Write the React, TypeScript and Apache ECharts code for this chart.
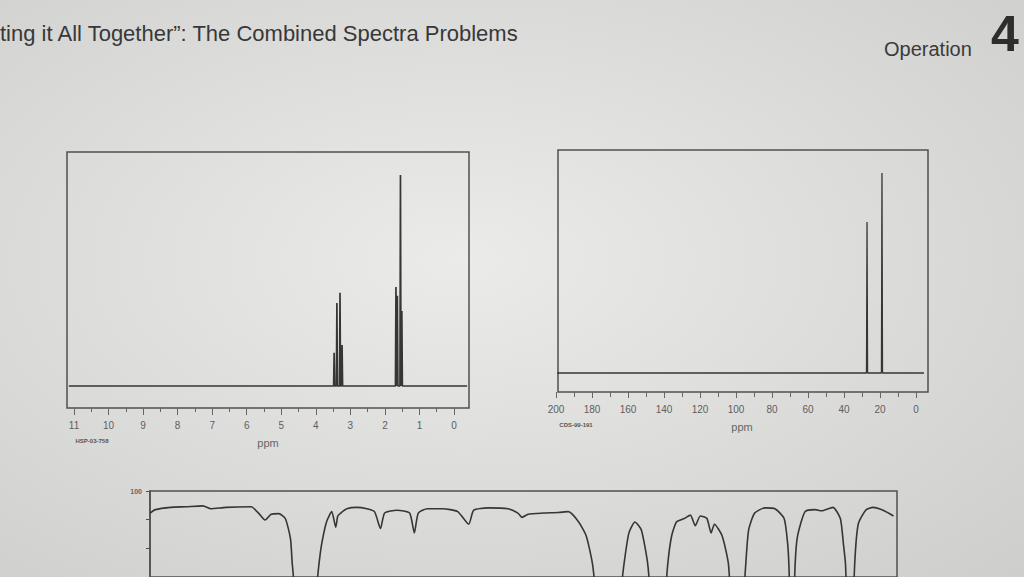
import React, { useEffect, useRef } from "react";
import * as echarts from "echarts";

// ---- Data ----
// 1H NMR: stick peaks [ppm, relative height]
const hPeakPpm = [3.47, 3.39, 3.3, 3.24, 1.68, 1.64, 1.55, 1.51];
const hPeakHeight = [21.6, 41.0, 45.0, 24.6, 47.3, 43.8, 91.0, 37.9];
const hBaseline = 8.6;
const hSpan = [11.15, -0.38];
const hTickLabels = [11, 10, 9, 8, 7, 6, 5, 4, 3, 2, 1, 0];

// 13C NMR
const cPeakPpm = [27.2, 18.9];
const cPeakHeight = [70.2, 90.5];
const cBaseline = 7.85;
const cSpan = [199.4, -4.4];
const cTickLabels = [200, 180, 160, 140, 120, 100, 80, 60, 40, 20, 0];

// IR: wavenumber (cm-1) and %T (visible top part only)
const irWavenumber = [
  4000, 3974, 3901, 3828, 3745, 3707, 3634, 3513, 3477, 3445, 3416, 3379, 3348, 3323, 3314, 3253,
  3186, 3173, 3149, 3124, 3105, 3095, 3081, 3052, 3003, 2955, 2918, 2889, 2869, 2809, 2749, 2726,
  2707, 2663, 2590, 2517, 2464, 2440, 2372, 2275, 2227, 2207, 2178, 2105, 2032, 1984, 1935, 1898,
  1867, 1793, 1716, 1692, 1663, 1632, 1601, 1552, 1505, 1486, 1462, 1425, 1396, 1372, 1348, 1316,
  1296, 1280, 1243, 1212, 1172, 1129, 1115, 1086, 1037, 988, 944, 928, 921, 906, 891, 879, 843,
  794, 765, 709, 673, 658, 648, 627, 604, 587, 551, 515, 467, 417,
];
const irTransmittance = [
  92.3, 93.5, 94.3, 94.5, 94.8, 93.8, 94.3, 94.5, 92.3, 89.9, 91.9, 92.1, 90.4, 83.4, 74.3, 30,
  74.3, 81.4, 89.3, 92.8, 87.4, 91.3, 92.3, 93.8, 94.3, 93.8, 92.8, 86.9, 92.3, 93.3, 92.3, 85.4,
  92.3, 93.8, 93.8, 92.8, 88.4, 93.3, 94.1, 93.8, 92.3, 90.8, 91.9, 92.3, 92.5, 92.8, 89.3, 84.4,
  74.3, 30, 74.3, 85.4, 89.2, 86.4, 74.3, 35, 74.3, 84.4, 89.3, 90.4, 91.6, 87.9, 91.3, 90.4,
  85.4, 88.4, 84.4, 74.3, 30, 74.3, 86.4, 92.3, 94.1, 93.8, 90.4, 82.4, 74.3, 40, 74.3, 84.4, 92.8,
  93.5, 93.1, 94.3, 90.4, 81.4, 74.3, 30, 74.3, 88.4, 93.3, 94.3, 93.3, 91.3,
];

const titleText = "ting it All Together\u201D: The Combined Spectra Problems";
const operationText = "Operation";
const chapterText = "4";

function stickLine(ppm: number[], h: number[], base: number, span: number[], halfWidth: number) {
  const pts: number[][] = [[span[0], base]];
  ppm.forEach((p, i) => {
    pts.push([p + halfWidth, base]);
    pts.push([p, h[i]]);
    pts.push([p - halfWidth, base]);
  });
  pts.push([span[1], base]);
  return pts;
}

export default function App() {
  const ref = useRef<HTMLDivElement>(null);
  useEffect(() => {
    document.body.style.margin = "0";
    if (!ref.current) return;
    const chart = echarts.init(ref.current, undefined, { renderer: "svg" });
    const lineColor = "#363636";
    const frameColor = "#505050";
    const labelColor = "#5e5e5e";
    const font = "'Liberation Sans', Arial, sans-serif";
    const hidden = { show: false };

    const option: any = {
      animation: false,
      backgroundColor: {
        type: "radial",
        x: 0.45,
        y: 0.45,
        r: 0.8,
        colorStops: [
          { offset: 0, color: "#ebebea" },
          { offset: 1, color: "#cdcdcc" },
        ],
      },
      textStyle: { fontFamily: font },
      grid: [
        { left: 67, top: 152, width: 402, height: 256, show: true, borderColor: frameColor, borderWidth: 1.5 },
        { left: 74, top: 300, width: 380, height: 108 },
        { left: 558, top: 150, width: 370, height: 242, show: true, borderColor: frameColor, borderWidth: 1.5 },
        { left: 556, top: 300, width: 360, height: 92 },
        { left: 150, top: 491, width: 747, height: 100.5, show: true, borderColor: frameColor, borderWidth: 1.5 },
      ],
      xAxis: [
        { gridIndex: 0, type: "value", min: -0.434, max: 11.203, inverse: true, show: false },
        {
          gridIndex: 1, type: "value", min: 0, max: 11, interval: 1, inverse: true,
          axisLine: hidden, splitLine: hidden,
          axisTick: { show: true, length: 7, lineStyle: { color: "#666", width: 1 } },
          minorTick: { show: true, splitNumber: 2, length: 4, lineStyle: { color: "#666", width: 1 } },
          axisLabel: {
            margin: 12, fontSize: 10, color: labelColor, fontFamily: font,
            formatter: (v: number) => (hTickLabels.indexOf(v) >= 0 ? String(v) : ""),
          },
        },
        { gridIndex: 2, type: "value", min: -6.67, max: 198.9, inverse: true, show: false },
        {
          gridIndex: 3, type: "value", min: 0, max: 200, interval: 20, inverse: true,
          axisLine: hidden, splitLine: hidden,
          axisTick: { show: true, length: 6, lineStyle: { color: "#666", width: 1 } },
          minorTick: { show: true, splitNumber: 2, length: 5, lineStyle: { color: "#666", width: 1 } },
          axisLabel: {
            margin: 12, fontSize: 10, color: labelColor, fontFamily: font,
            formatter: (v: number) => (cTickLabels.indexOf(v) >= 0 ? String(v) : ""),
          },
        },
        { gridIndex: 4, type: "value", min: 400, max: 4000, inverse: true, show: false },
      ],
      yAxis: [
        { gridIndex: 0, type: "value", min: 0, max: 100, show: false },
        { gridIndex: 1, type: "value", min: 0, max: 100, show: false },
        { gridIndex: 2, type: "value", min: 0, max: 100, show: false },
        { gridIndex: 3, type: "value", min: 0, max: 100, show: false },
        {
          gridIndex: 4, type: "value", min: 70, max: 100, interval: 10,
          axisLine: { show: true, lineStyle: { color: frameColor, width: 1.5 } },
          axisTick: { show: true, length: 4, lineStyle: { color: frameColor } },
          splitLine: hidden,
          axisLabel: {
            margin: 8, fontSize: 7, fontWeight: "bold", color: "#666",
            formatter: (v: number) => (v === 100 ? "100" : ""),
          },
        },
      ],
      series: [
        {
          type: "line", xAxisIndex: 0, yAxisIndex: 0, showSymbol: false, symbol: "none",
          data: stickLine(hPeakPpm, hPeakHeight, hBaseline, hSpan, 0.015),
          lineStyle: { color: lineColor, width: 1.7 },
        },
        {
          type: "line", xAxisIndex: 2, yAxisIndex: 2, showSymbol: false, symbol: "none",
          data: stickLine(cPeakPpm, cPeakHeight, cBaseline, cSpan, 0.3),
          lineStyle: { color: lineColor, width: 1.3 },
        },
        {
          type: "line", xAxisIndex: 4, yAxisIndex: 4, showSymbol: false, symbol: "none",
          smooth: 0.2,
          data: irWavenumber.map((w, i) => [w, irTransmittance[i]]),
          lineStyle: { color: lineColor, width: 1.6 },
        },
      ],
      graphic: [
        {
          type: "text", x: 0, y: 33,
          style: { text: titleText, font: `22px ${font}`, fill: "#383838", verticalAlign: "middle" },
        },
        {
          type: "text", x: 884, y: 49,
          style: { text: operationText, font: `20px ${font}`, fill: "#3a3a3a", verticalAlign: "middle" },
        },
        {
          type: "text", x: 991, y: 34,
          style: { text: chapterText, font: `bold 50px ${font}`, fill: "#2e2e2e", verticalAlign: "middle" },
        },
        {
          type: "text", x: 268, y: 443,
          style: { text: "ppm", font: `11px ${font}`, fill: "#666", align: "center", verticalAlign: "middle" },
        },
        {
          type: "text", x: 742, y: 427,
          style: { text: "ppm", font: `11px ${font}`, fill: "#666", align: "center", verticalAlign: "middle" },
        },
        {
          type: "text", x: 92, y: 441,
          style: { text: "HSP-03-758", font: `bold 6px ${font}`, fill: "#555", align: "center", verticalAlign: "middle" },
        },
        {
          type: "text", x: 576, y: 425,
          style: { text: "CDS-99-191", font: `bold 6px ${font}`, fill: "#555", align: "center", verticalAlign: "middle" },
        },
      ],
    };
    chart.setOption(option);
    return () => chart.dispose();
  }, []);
  return <div ref={ref} style={{ width: 1024, height: 577 }} />;
}
